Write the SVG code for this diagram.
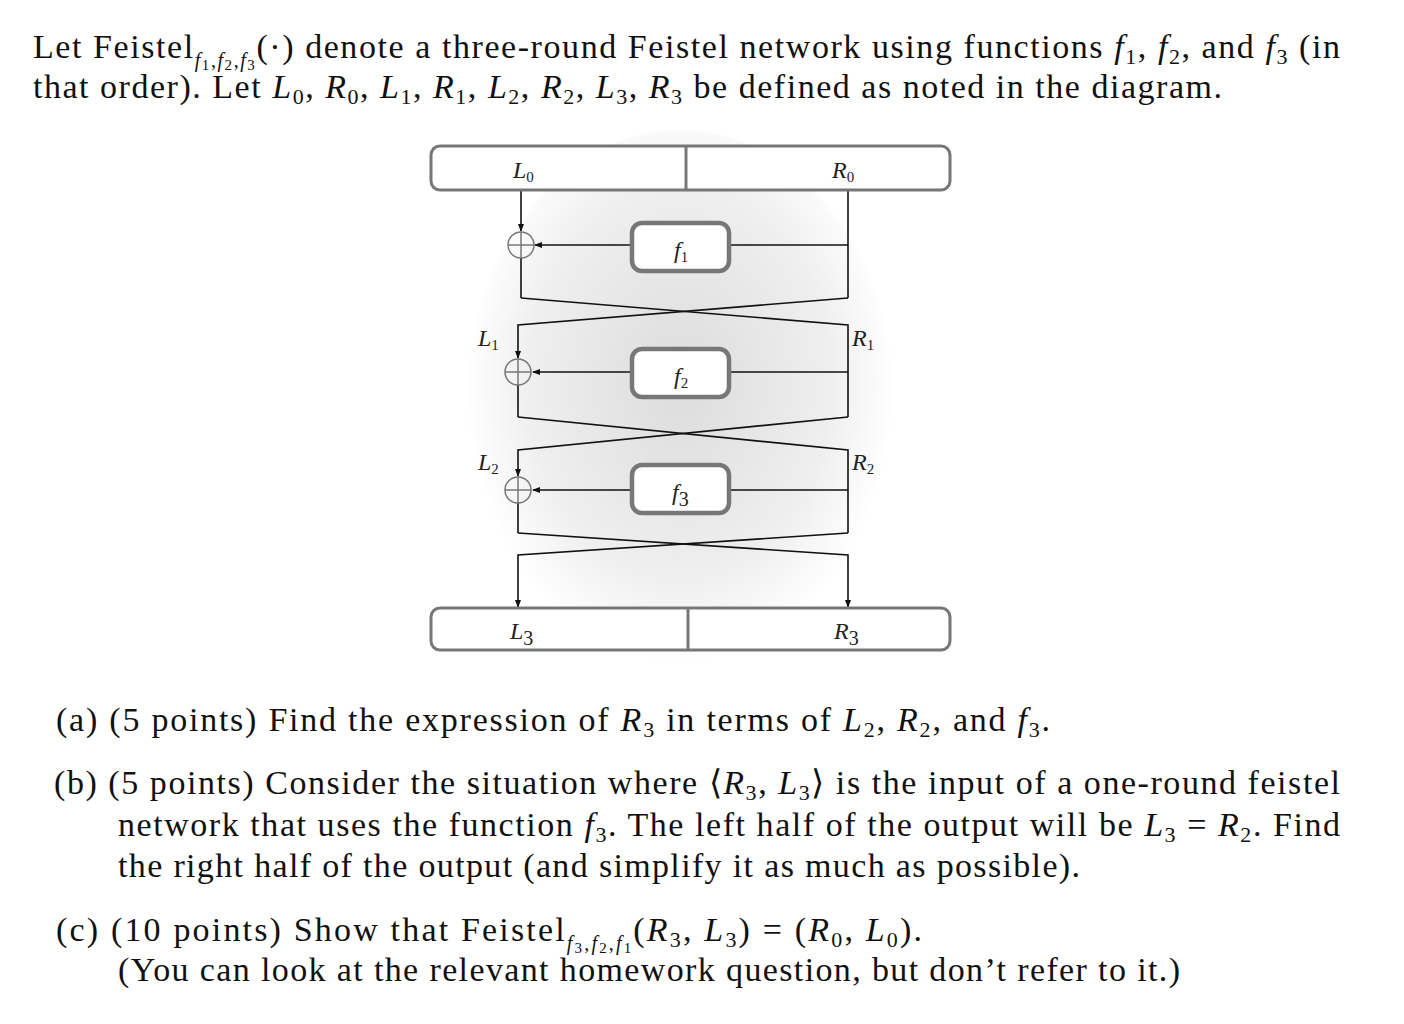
<svg xmlns="http://www.w3.org/2000/svg" width="1404" height="1024" viewBox="0 0 1404 1024">
<defs>
<radialGradient id="bg" cx="0.5" cy="0.45" r="0.5"><stop offset="0" stop-color="#dcdcdc"/><stop offset="0.7" stop-color="#efefef"/><stop offset="1" stop-color="#fff"/></radialGradient>
<marker id="ar" markerWidth="8" markerHeight="8" refX="7" refY="4" orient="auto" markerUnits="userSpaceOnUse"><path d="M0,1 L8,4 L0,7 Z" fill="#111"/></marker>
</defs>
<style>
.t{font-family:"Liberation Serif",serif;font-size:34px;fill:#111}
.m{font-family:"Liberation Serif",serif;font-style:italic;font-size:24px;fill:#222}
.s{font-size:15px;font-style:normal}
.box{fill:#fff;stroke:#777;stroke-width:3}
.fb{fill:#fff;stroke:#777;stroke-width:4.5}
.ln{fill:none;stroke:#111;stroke-width:1.6}
.x{fill:none;stroke:#777;stroke-width:1.5}
</style>
<rect width="1404" height="1024" fill="#fff"/>
<ellipse cx="680" cy="410" rx="215" ry="280" fill="url(#bg)"/>
<g id="text-intro">
<text class="t" x="33" y="58" textLength="1307" lengthAdjust="spacing">Let Feistel<tspan font-style="italic" font-size="20" dy="9">f</tspan><tspan font-size="15" dy="3">1</tspan><tspan font-size="20" dy="-3">,</tspan><tspan font-style="italic" font-size="20">f</tspan><tspan font-size="15" dy="3">2</tspan><tspan font-size="20" dy="-3">,</tspan><tspan font-style="italic" font-size="20">f</tspan><tspan font-size="15" dy="3">3</tspan><tspan dy="-12">(·) denote a three-round Feistel network using functions </tspan><tspan font-style="italic">f</tspan><tspan font-size="22" dy="6">1</tspan><tspan dy="-6">, </tspan><tspan font-style="italic">f</tspan><tspan font-size="22" dy="6">2</tspan><tspan dy="-6">, and </tspan><tspan font-style="italic">f</tspan><tspan font-size="22" dy="6">3</tspan><tspan dy="-6"> (in</tspan></text>
<text class="t" x="33" y="98" textLength="1189" lengthAdjust="spacing">that order). Let <tspan font-style="italic">L</tspan><tspan font-size="22" dy="6">0</tspan><tspan dy="-6">, </tspan><tspan font-style="italic">R</tspan><tspan font-size="22" dy="6">0</tspan><tspan dy="-6">, </tspan><tspan font-style="italic">L</tspan><tspan font-size="22" dy="6">1</tspan><tspan dy="-6">, </tspan><tspan font-style="italic">R</tspan><tspan font-size="22" dy="6">1</tspan><tspan dy="-6">, </tspan><tspan font-style="italic">L</tspan><tspan font-size="22" dy="6">2</tspan><tspan dy="-6">, </tspan><tspan font-style="italic">R</tspan><tspan font-size="22" dy="6">2</tspan><tspan dy="-6">, </tspan><tspan font-style="italic">L</tspan><tspan font-size="22" dy="6">3</tspan><tspan dy="-6">, </tspan><tspan font-style="italic">R</tspan><tspan font-size="22" dy="6">3</tspan><tspan dy="-6"> be defined as noted in the diagram.</tspan></text>
</g>
<g id="connectors">
<line class="ln" x1="521" y1="190" x2="521" y2="231" marker-end="url(#ar)"/>
<line class="ln" x1="848" y1="190" x2="848" y2="298"/>
<line class="ln" x1="848" y1="245" x2="729" y2="245"/>
<line class="ln" x1="632" y1="245" x2="535" y2="245" marker-end="url(#ar)"/>
<line class="ln" x1="521" y1="258" x2="521" y2="298"/>
<polyline class="ln" points="521,298 848,325 848,417"/>
<polyline class="ln" points="848,298 518,325 518,358" marker-end="url(#ar)"/>
<line class="ln" x1="848" y1="372" x2="729" y2="372"/>
<line class="ln" x1="632" y1="372" x2="533" y2="372" marker-end="url(#ar)"/>
<line class="ln" x1="518" y1="385" x2="518" y2="417"/>
<polyline class="ln" points="518,417 848,450 848,533"/>
<polyline class="ln" points="848,417 518,450 518,476" marker-end="url(#ar)"/>
<line class="ln" x1="848" y1="490" x2="729" y2="490"/>
<line class="ln" x1="632" y1="490" x2="533" y2="490" marker-end="url(#ar)"/>
<line class="ln" x1="518" y1="503" x2="518" y2="533"/>
<polyline class="ln" points="518,533 848,555 848,607" marker-end="url(#ar)"/>
<polyline class="ln" points="848,533 518,555 518,607" marker-end="url(#ar)"/>
</g>
<g id="input">
<rect class="box" x="431" y="146" width="519" height="44" rx="9"/>
<line x1="686" y1="146" x2="686" y2="190" stroke="#777" stroke-width="3"/>
<text class="m" x="513" y="178">L<tspan class="s" dy="4">0</tspan></text>
<text class="m" x="832" y="178">R<tspan class="s" dy="4">0</tspan></text>
</g>
<g id="xor1"><circle class="x" cx="521" cy="245" r="13"/><line class="x" x1="508" y1="245" x2="534" y2="245"/><line class="x" x1="521" y1="232" x2="521" y2="258"/></g>
<g id="f1"><rect class="fb" x="632" y="223" width="97" height="48" rx="10"/><text class="m" x="674" y="258">f<tspan class="s" dy="4">1</tspan></text></g>
<g id="lab1"><text class="m" x="478" y="346">L<tspan class="s" dy="4">1</tspan></text><text class="m" x="852" y="346">R<tspan class="s" dy="4">1</tspan></text></g>
<g id="xor2"><circle class="x" cx="518" cy="372" r="13"/><line class="x" x1="505" y1="372" x2="531" y2="372"/><line class="x" x1="518" y1="359" x2="518" y2="385"/></g>
<g id="f2"><rect class="fb" x="632" y="349" width="97" height="48" rx="10"/><text class="m" x="674" y="384">f<tspan class="s" dy="4">2</tspan></text></g>
<g id="lab2"><text class="m" x="478" y="470">L<tspan class="s" dy="4">2</tspan></text><text class="m" x="852" y="470">R<tspan class="s" dy="4">2</tspan></text></g>
<g id="xor3"><circle class="x" cx="518" cy="490" r="13"/><line class="x" x1="505" y1="490" x2="531" y2="490"/><line class="x" x1="518" y1="477" x2="518" y2="503"/></g>
<g id="f3"><rect class="fb" x="632" y="465" width="97" height="48" rx="10"/><text class="m" x="672" y="500">f<tspan font-size="20" font-style="normal" dy="6">3</tspan></text></g>
<g id="output">
<rect class="box" x="431" y="608" width="519" height="42" rx="9"/>
<line x1="688" y1="608" x2="688" y2="650" stroke="#777" stroke-width="3"/>
<text class="m" x="510" y="639">L<tspan font-size="20" font-style="normal" dy="6">3</tspan></text>
<text class="m" x="834" y="639">R<tspan font-size="20" font-style="normal" dy="6">3</tspan></text>
</g>
<g id="questions">
<text class="t" x="56" y="731" textLength="994" lengthAdjust="spacing">(a)  (5 points) Find the expression of <tspan font-style="italic">R</tspan><tspan font-size="22" dy="6">3</tspan><tspan dy="-6"> in terms of </tspan><tspan font-style="italic">L</tspan><tspan font-size="22" dy="6">2</tspan><tspan dy="-6">, </tspan><tspan font-style="italic">R</tspan><tspan font-size="22" dy="6">2</tspan><tspan dy="-6">, and </tspan><tspan font-style="italic">f</tspan><tspan font-size="22" dy="6">3</tspan><tspan dy="-6">.</tspan></text>
<text class="t" x="54" y="794" textLength="1286" lengthAdjust="spacing">(b)  (5 points) Consider the situation where ⟨<tspan font-style="italic">R</tspan><tspan font-size="22" dy="6">3</tspan><tspan dy="-6">, </tspan><tspan font-style="italic">L</tspan><tspan font-size="22" dy="6">3</tspan><tspan dy="-6">⟩ is the input of a one-round feistel</tspan></text>
<text class="t" x="118" y="836" textLength="1222" lengthAdjust="spacing">network that uses the function <tspan font-style="italic">f</tspan><tspan font-size="22" dy="6">3</tspan><tspan dy="-6">. The left half of the output will be </tspan><tspan font-style="italic">L</tspan><tspan font-size="22" dy="6">3</tspan><tspan dy="-6"> = </tspan><tspan font-style="italic">R</tspan><tspan font-size="22" dy="6">2</tspan><tspan dy="-6">. Find</tspan></text>
<text class="t" x="118" y="877" textLength="962" lengthAdjust="spacing">the right half of the output (and simplify it as much as possible).</text>
<text class="t" x="56" y="941" textLength="866" lengthAdjust="spacing">(c)  (10 points) Show that Feistel<tspan font-style="italic" font-size="20" dy="9">f</tspan><tspan font-size="15" dy="3">3</tspan><tspan font-size="20" dy="-3">,</tspan><tspan font-style="italic" font-size="20">f</tspan><tspan font-size="15" dy="3">2</tspan><tspan font-size="20" dy="-3">,</tspan><tspan font-style="italic" font-size="20">f</tspan><tspan font-size="15" dy="3">1</tspan><tspan dy="-12">(</tspan><tspan font-style="italic">R</tspan><tspan font-size="22" dy="6">3</tspan><tspan dy="-6">, </tspan><tspan font-style="italic">L</tspan><tspan font-size="22" dy="6">3</tspan><tspan dy="-6">) = (</tspan><tspan font-style="italic">R</tspan><tspan font-size="22" dy="6">0</tspan><tspan dy="-6">, </tspan><tspan font-style="italic">L</tspan><tspan font-size="22" dy="6">0</tspan><tspan dy="-6">).</tspan></text>
<text class="t" x="118" y="981" textLength="1062" lengthAdjust="spacing">(You can look at the relevant homework question, but don’t refer to it.)</text>
</g>
</svg>
